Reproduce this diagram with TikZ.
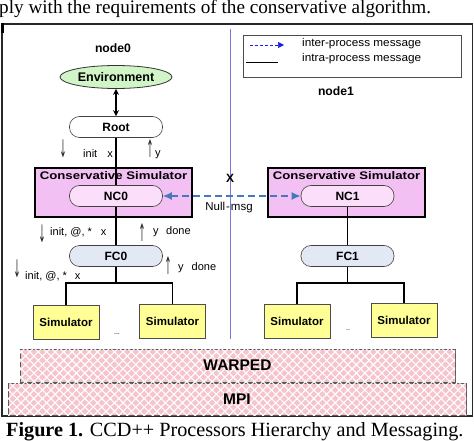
\documentclass[tikz,border=0pt]{standalone}
\usepackage{graphicx}
\usepackage{fontspec}
\setmainfont{Liberation Serif}
\newfontfamily\arial{Liberation Sans}
\newfontfamily\arialw[FakeStretch=1.2]{Liberation Sans}
\newfontfamily\arialm[FakeStretch=1.05]{Liberation Sans}
\newfontfamily\dejavu{DejaVu Sans}
\usetikzlibrary{patterns.meta,arrows.meta,shapes.geometric}
\definecolor{envgreen}{RGB}{210,245,200}
\definecolor{cspink}{RGB}{242,192,242}
\definecolor{ncpink}{RGB}{250,222,250}
\definecolor{fcblue}{RGB}{226,232,244}
\definecolor{simyel}{RGB}{255,255,150}
\definecolor{hatchpink}{RGB}{246,196,204}
\definecolor{divblue}{RGB}{120,120,215}
\definecolor{msgblue}{RGB}{70,120,190}
\definecolor{legblue}{RGB}{30,30,230}
\definecolor{frame}{RGB}{40,40,40}
\newcommand{\dnarr}{\scalebox{0.75}[2.2]{↓}}
\newcommand{\uparr}{\scalebox{0.75}[2.2]{↑}}
\begin{document}
\begin{tikzpicture}[x=1pt,y=-1pt,
  pill/.style={draw=black!75, line width=0.6pt, rounded corners=10pt, minimum width=93pt,
     minimum height=21pt, inner sep=0pt, font=\arial\bfseries\fontsize{12}{12}\selectfont},
  csbox/.style={draw=black, line width=1.6pt, fill=cspink, minimum width=157pt,
     minimum height=49pt, inner sep=0pt},
  cstitle/.style={font=\arialw\bfseries\fontsize{11}{11}\selectfont, inner sep=0pt},
  simbox/.style={draw=black!70, line width=0.8pt, fill=simyel, minimum width=66pt,
     minimum height=34pt, inner sep=0pt, font=\arial\bfseries\fontsize{11.5}{11.5}\selectfont},
  layer/.style={draw=black!65, line width=1pt, fill=hatchpink, inner sep=0pt,
     font=\arial\bfseries\fontsize{15.5}{15.5}\selectfont,
     postaction={pattern={Lines[angle=45,distance=6pt,line width=1.1pt]}, pattern color=white},
     postaction={pattern={Lines[angle=-45,distance=6pt,line width=1.1pt]}, pattern color=white}},
  lbl/.style={font=\arial\fontsize{11}{11}\selectfont, inner sep=0pt},
  arr/.style={font=\dejavu\fontsize{11}{11}\selectfont, inner sep=0pt, text=black!85},
  tree/.style={draw=black, line width=1.3pt},
  legtxt/.style={font=\arialm\fontsize{11.2}{11.2}\selectfont, inner sep=0pt, anchor=west},
  title/.style={font=\arial\bfseries\fontsize{12.2}{12.2}\selectfont, inner sep=0pt}
]
\useasboundingbox (0,0) rectangle (474,441);
\fill[white] (0,0) rectangle (474,441);

% page text
\node[anchor=base west, inner sep=0pt, font=\fontsize{19.2}{19.2}\selectfont] (toptext) at (-1,14)
  {ply with the requirements of the conservative algorithm.};
\node[anchor=base west, inner sep=0pt, font=\fontsize{20.2}{20.2}\selectfont] (caption) at (6,436)
  {\textbf{Figure 1.} CCD++ Processors Hierarchy and Messaging.};

% frame
\draw[frame, line width=1.6pt] (2,24) rectangle (472.5,416);
\draw[black, line width=3pt] (2.5,23) -- (2.5,33);

% divider
\coordinate (dtop) at (230,29);
\coordinate (dbot) at (230,339);
\draw[divblue, line width=0.9pt] (dtop) -- (dbot);

% legend
\node[draw=black!70, line width=0.8pt, minimum width=218pt, minimum height=42pt, inner sep=0pt] (legend) at (352,56) {};
\coordinate (la1) at (250,45);
\coordinate (la2) at (284,45);
\draw[legblue, densely dashed, line width=0.6pt, -{Triangle[length=6pt,width=6pt]}] (la1) -- (la2);
\coordinate (lb1) at (246,63);
\coordinate (lb2) at (278,63);
\draw[black, line width=1pt] (lb1) -- (lb2);
\node[legtxt] (lt1) at (302,44) {inter-process message};
\node[legtxt] (lt2) at (302,59) {intra-process message};

% node titles
\node[title] (node0) at (113,48) {node0};
\node[title] (node1) at (336,91) {node1};

% left column
\node[ellipse, draw=black!80, line width=0.8pt, fill=envgreen, minimum width=112pt, minimum height=23pt,
  inner sep=0pt, font=\arial\bfseries\fontsize{12.5}{12.5}\selectfont] (env) at (116,77) {Environment};
\node[pill, fill=white] (root) at (116,127) {Root};
\draw[black, line width=1.6pt, {Stealth[length=6pt,width=6pt]}-{Stealth[length=6pt,width=6pt]}] (env) -- (root);

\node[csbox] (cs0) at (113.5,192.5) {};
\node[cstitle] (cs0t) at (113.5,176) {Conservative Simulator};
\node[pill, fill=ncpink] (nc0) at (116,196) {NC0};

\node[csbox] (cs1) at (346.5,192.5) {};
\node[cstitle] (cs1t) at (346.5,176) {Conservative Simulator};
\node[pill, fill=ncpink] (nc1) at (347.5,196) {NC1};

\draw[tree] (root) -- (nc0);

\node[pill, fill=fcblue] (fc0) at (116,256) {FC0};
\node[pill, fill=fcblue] (fc1) at (347.5,256) {FC1};
\draw[tree] (nc0) -- (fc0);
\draw[tree] (nc1) -- (fc1);

% labels left
\node[arr] (a1) at (63,149) {\dnarr};
\node[lbl, anchor=west] (l1) at (83,154) {init\hspace{10pt}x};
\node[arr] (a2) at (150,149) {\uparr};
\node[lbl, anchor=west] (l2) at (155,155) {y};

\node[arr] (a3) at (42,234) {\dnarr};
\node[lbl, anchor=west] (l3) at (50,232) {init, @, *\hspace{9pt}x};
\node[arr] (a4) at (142,233) {\uparr};
\node[lbl, anchor=west] (l4) at (153,232) {y\hspace{7.5pt}done};

\node[arr] (a5) at (17,269) {\dnarr};
\node[lbl, anchor=west] (l5) at (25,276) {init, @, *\hspace{8pt}x};
\node[arr] (a6) at (168,266) {\uparr};
\node[lbl, anchor=west] (l6) at (178,268) {y\hspace{8pt}done};

% simulators
\node[simbox] (s1) at (66,322) {Simulator};
\node[simbox] (s2) at (172.5,321) {Simulator};
\node[simbox] (s3) at (297,321) {Simulator};
\node[simbox] (s4) at (404,320) {Simulator};
\coordinate (j0) at (116,283);
\coordinate (j1) at (347.5,283);
\draw[tree] (fc0) -- (j0);
\draw[tree] (s1.north) |- (j0) -| (s2.north);
\draw[tree] (fc1) -- (j1);
\draw[tree] (s3.north) |- (j1) -| (s4.north);
\node[lbl, font=\arial\fontsize{7}{7}\selectfont] (d0) at (117,334) {...};
\node[lbl, font=\arial\fontsize{7}{7}\selectfont] (d1) at (348,330) {..};

% null message
\draw[msgblue, line width=1.6pt, dash pattern=on 7pt off 4pt,
  {Latex[length=9pt,width=8pt]}-{Latex[length=9pt,width=8pt]}] (nc0) -- (nc1);
\node[font=\arial\bfseries\fontsize{12}{12}\selectfont, inner sep=0pt] (xl) at (230,178) {X};
\node[lbl, font=\arial\fontsize{11.5}{11.5}\selectfont] (nm) at (229,208) {Null\hspace{1pt}-\hspace{1pt}msg};

% layers
\node[layer, minimum width=435pt, minimum height=33pt] (warped) at (237.5,365.5) {WARPED};
\node[layer, minimum width=458pt, minimum height=32pt] (mpi) at (237,399) {MPI};
\end{tikzpicture}
\end{document}
